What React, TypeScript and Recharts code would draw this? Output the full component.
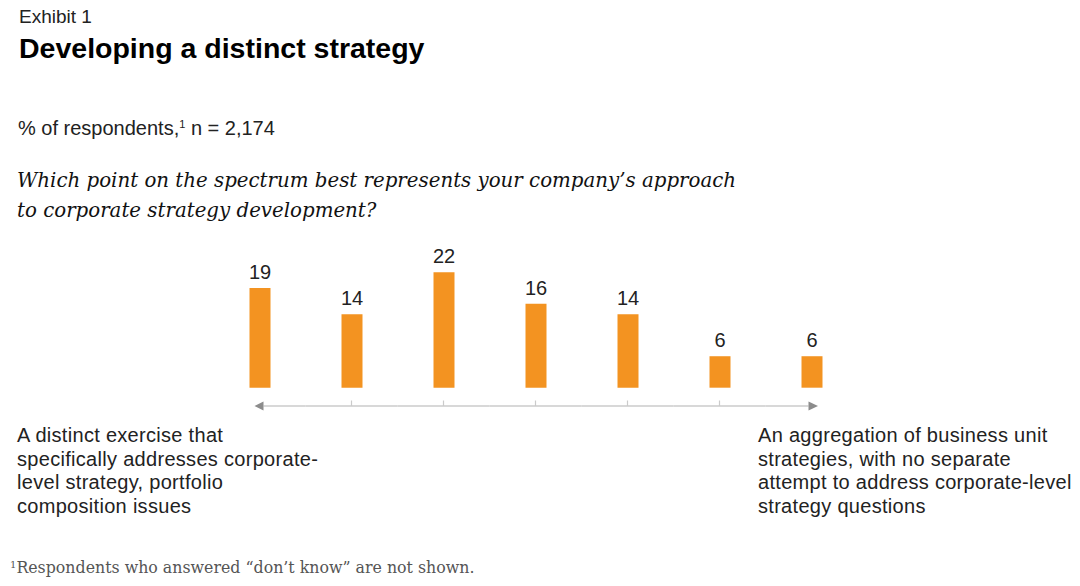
import React from "react";
import { BarChart, Bar, XAxis, YAxis, LabelList } from "recharts";

// Points along the spectrum, left (distinct exercise) to right (aggregation)
const points = ["1", "2", "3", "4", "5", "6", "7"];
const shares = [19, 14, 22, 16, 14, 6, 6];

const leftLabel = [
  "A distinct exercise that",
  "specifically addresses corporate-",
  "level strategy, portfolio",
  "composition issues",
];
const rightLabel = [
  "An aggregation of business unit",
  "strategies, with no separate",
  "attempt to address corporate-level",
  "strategy questions",
];

const data = points.map((point, i) => ({ point, share: shares[i] }));

const ORANGE = "#F39321";
const LINE = "#cbcbcb";
const ARROW = "#8c8c8c";
const SANS = "'Liberation Sans', Arial, Helvetica, sans-serif";
const SERIF = "'DejaVu Serif', Georgia, serif";

const STEP = 92;

// draws the spectrum arrow piece by piece, one segment per category
function SpectrumTick(props: any) {
  const { x, y, payload } = props;
  const i = points.indexOf(payload.value);
  const last = points.length - 1;
  const ly = y + 18.3;
  let x1 = x - STEP / 2;
  let x2 = x + STEP / 2;
  if (i === 0) x1 = x + 4;
  if (i === last) x2 = x - 3;
  return (
    <g>
      <line x1={x1} y1={ly} x2={x2} y2={ly} stroke={LINE} strokeWidth={1.5} />
      {i > 0 && i < last && (
        <line x1={x} y1={ly - 5.5} x2={x} y2={ly} stroke={LINE} strokeWidth={1.2} />
      )}
      {i === 0 && (
        <polygon
          points={`${x - 5},${ly} ${x + 4},${ly - 4.5} ${x + 4},${ly + 4.5}`}
          fill={ARROW}
        />
      )}
      {i === last && (
        <polygon
          points={`${x + 6.5},${ly} ${x - 3},${ly - 4.5} ${x - 3},${ly + 4.5}`}
          fill={ARROW}
        />
      )}
    </g>
  );
}

const abs = (left: number, top: number): React.CSSProperties => ({
  position: "absolute",
  left,
  top,
  margin: 0,
  whiteSpace: "nowrap",
});

const endLabel: React.CSSProperties = {
  fontFamily: SANS,
  fontSize: 20,
  letterSpacing: 0.3,
  lineHeight: "23.5px",
  color: "#222",
};

export default function App() {
  return (
    <div
      style={{
        position: "absolute",
        left: 0,
        top: 0,
        width: 1080,
        height: 586,
        background: "#ffffff",
        overflow: "hidden",
      }}
    >
      <div
        style={{
          ...abs(19, 6.6),
          fontFamily: SANS,
          fontSize: 19,
          lineHeight: "19px",
          color: "#222",
        }}
      >
        Exhibit 1
      </div>
      <div
        style={{
          ...abs(19, 34),
          fontFamily: SANS,
          fontSize: 28.5,
          lineHeight: "28.5px",
          fontWeight: 700,
          color: "#000",
        }}
      >
        Developing a distinct strategy
      </div>
      <div
        style={{
          ...abs(18, 117.5),
          fontFamily: SANS,
          fontSize: 20,
          lineHeight: "20px",
          color: "#222",
        }}
      >
        % of respondents,
        <span style={{ fontSize: 11, position: "relative", top: -7 }}>1</span> n = 2,174
      </div>
      <div
        style={{
          ...abs(17, 166),
          fontFamily: SERIF,
          fontStyle: "italic",
          fontSize: 19.8,
          lineHeight: "30px",
          color: "#111",
        }}
      >
        Which point on the spectrum best represents your company’s approach
        <br />
        to corporate strategy development?
      </div>

      <div style={{ position: "absolute", left: 0, top: 0 }}>
        <BarChart
          width={1080}
          height={586}
          data={data}
          margin={{ top: 272.3, right: 222.5, bottom: 158.3, left: 213.5 }}
        >
          <XAxis
            dataKey="point"
            height={40}
            axisLine={false}
            tickLine={false}
            tickSize={0}
            tickMargin={0}
            interval={0}
            tick={<SpectrumTick />}
          />
          <YAxis hide domain={[0, 22]} />
          <Bar dataKey="share" fill={ORANGE} barSize={21} isAnimationActive={false}>
            <LabelList
              dataKey="share"
              position="top"
              offset={9}
              fill="#222"
              fontSize={20}
              fontFamily={SANS}
            />
          </Bar>
        </BarChart>
      </div>

      <div style={{ ...abs(17, 424), ...endLabel }}>
        {leftLabel.map((line) => (
          <div key={line}>{line}</div>
        ))}
      </div>
      <div style={{ ...abs(758, 424), ...endLabel }}>
        {rightLabel.map((line) => (
          <div key={line}>{line}</div>
        ))}
      </div>

      <div
        style={{
          ...abs(10, 559.5),
          fontFamily: SERIF,
          fontSize: 15.8,
          lineHeight: "16px",
          color: "#555",
        }}
      >
        <span style={{ fontSize: 10, position: "relative", top: -5 }}>1</span>
        Respondents who answered “don’t know” are not shown.
      </div>
    </div>
  );
}
